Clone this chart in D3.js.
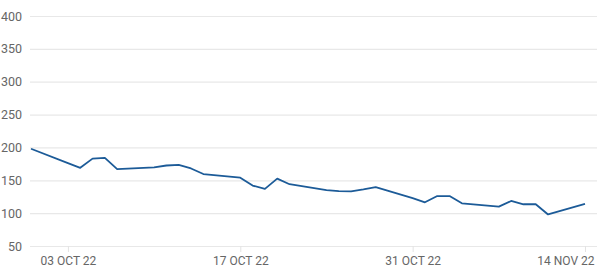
<!DOCTYPE html>
<html>
<head>
<meta charset="utf-8">
<script src="https://cdn.jsdelivr.net/npm/d3@7"></script>
<style>
  body { margin: 0; background: #fff; }
  svg { display: block; }
  .tick text { font-family: Roboto, "Open Sans", sans-serif; fill: #666; }
</style>
</head>
<body>
<div id="chart"></div>
<script>
// price series, business days only
const dates = [
  "2022-09-30", "2022-10-03", "2022-10-04", "2022-10-05", "2022-10-06", "2022-10-07",
  "2022-10-10", "2022-10-11", "2022-10-12", "2022-10-13", "2022-10-14",
  "2022-10-17", "2022-10-18", "2022-10-19", "2022-10-20", "2022-10-21",
  "2022-10-24", "2022-10-25", "2022-10-26", "2022-10-27", "2022-10-28",
  "2022-10-31", "2022-11-01", "2022-11-02", "2022-11-03", "2022-11-04",
  "2022-11-07", "2022-11-08", "2022-11-09", "2022-11-10", "2022-11-11",
  "2022-11-14"
];
const values = [
  198, 176, 169, 183, 184, 167,
  169.5, 172.5, 173.5, 168, 159.5,
  154, 142, 137, 152.5, 144,
  135, 133.5, 133, 136, 139.5,
  123, 116.5, 126, 126, 115,
  110, 118.5, 113.5, 113.5, 98,
  114
];
const yTicks = [50, 100, 150, 200, 250, 300, 350, 400];
const xTicks = ["2022-10-03", "2022-10-17", "2022-10-31", "2022-11-14"];

const width = 600, height = 274;
const margin = { top: 16, right: 4, bottom: 28, left: 31 };
const parse = d3.utcParse("%Y-%m-%d");
const data = dates.map((d, i) => ({ date: parse(d), value: values[i] }));

const svg = d3.select("#chart").append("svg")
  .attr("width", width)
  .attr("height", height);

const x = d3.scaleUtc()
  .domain([parse(dates[0]), parse(dates[dates.length - 1])])
  .range([margin.left, 585]);

const y = d3.scaleLinear()
  .domain([50, 400])
  .range([height - margin.bottom, margin.top]);

// gridlines + y labels
const yAxis = svg.append("g")
  .attr("transform", `translate(${margin.left - 1},0)`)
  .call(d3.axisLeft(y).tickValues(yTicks).tickSize(-(width - margin.left - margin.right + 2)).tickPadding(8))
  .call(g => g.select(".domain").remove());
yAxis.selectAll(".tick line").attr("stroke", "#e8e8e8").attr("stroke-width", 1.2);
yAxis.selectAll(".tick text").attr("font-size", 12.5);

// date axis
const xAxis = svg.append("g")
  .attr("transform", `translate(0,${height - margin.bottom})`)
  .call(d3.axisBottom(x)
    .tickValues(xTicks.map(parse))
    .tickFormat(d => d3.utcFormat("%d %b %y")(d).toUpperCase())
    .tickSize(6)
    .tickPadding(4))
  .call(g => g.select(".domain").remove());
xAxis.selectAll(".tick line").attr("stroke", "#e3e3e3");
xAxis.selectAll(".tick text").attr("font-size", 12);
// keep the last date label inside the frame
xAxis.selectAll(".tick text").filter((d, i, n) => i === n.length - 1)
  .attr("text-anchor", "end")
  .attr("dx", 9);

const line = d3.line()
  .x(d => x(d.date))
  .y(d => y(d.value));

svg.append("path")
  .datum(data)
  .attr("fill", "none")
  .attr("stroke", "#1c5b98")
  .attr("stroke-width", 1.8)
  .attr("stroke-linejoin", "round")
  .attr("d", line);
</script>
</body>
</html>
